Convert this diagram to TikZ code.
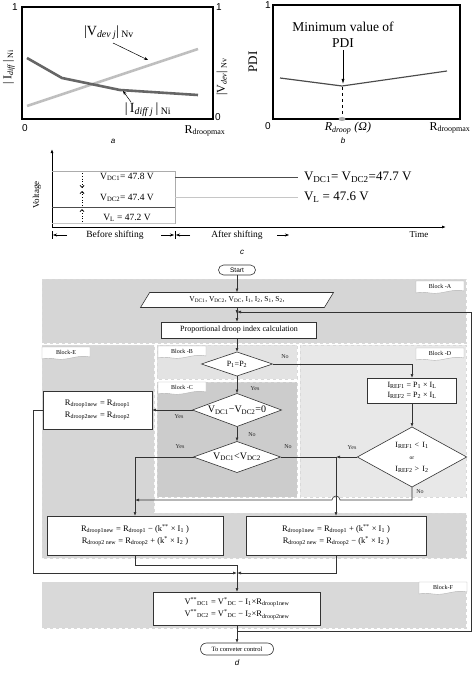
\documentclass[tikz,border=0pt]{standalone}
\usepackage{fontspec}
\setmainfont{Liberation Serif}
\newfontfamily\arialf{Liberation Sans}
\usetikzlibrary{arrows.meta,shapes.geometric,calc}
\newcommand\fsz[2]{\fontsize{#1}{#2}\selectfont}
\newcommand\btag[4]{%
  \begin{scope}[shift={(#2,#3)}]
    \draw[fill=white, draw=gray!60, line width=0.4pt] (-24,-6) -- (24,-6) -- (24,4) .. controls (12,1) and (2,8) .. (-10,6) .. controls (-16,5) and (-20,5) .. (-24,6) -- cycle;
    \node[font=\fsz{6}{7}] (#1) at (0,-0.5) {#4};
  \end{scope}}
\begin{document}
\begin{tikzpicture}[x=1pt,y=-1pt,
  >={Latex[length=4pt,width=3pt]},
  every node/.style={inner sep=0pt, outer sep=0pt},
  fcbox/.style={rectangle, draw=black!80, fill=white, line width=0.6pt, align=center},
  dia/.style={diamond, draw=black!80, fill=white, line width=0.6pt, aspect=2.5, align=center},
  conn/.style={draw=black!80, line width=0.6pt},
  arr/.style={conn,->},
  blk/.style={draw=gray!30, dashed, line width=0.4pt},
  yn/.style={font=\fsz{6}{7}, text=black!85},
  axnum/.style={font=\arialf\fsz{10}{11}},
  caplbl/.style={font=\arialf\itshape\fsz{8}{9}},
  thinarr/.style={->, line width=0.5pt, >={Stealth[length=4pt,width=3pt]}}
]
\useasboundingbox (0,0) rectangle (474,682);

% ================= Panel a =================
\draw[line width=1.3pt] (22,7) rectangle (213,119);
\node[axnum] (a1l) at (15,7) {1};
\node[axnum] (a0l) at (25,128) {0};
\node[axnum] (a1r) at (219,7) {1};
\node[axnum] (a0r) at (218,117) {0};
\node[font=\fsz{12}{13}] (armax) at (205,131) {R\textsubscript{droopmax}};
\node[caplbl] (acap) at (113,141) {a};
\node[rotate=90, font=\fsz{12}{13}] (aylab) at (9,67) {|\,I\textsubscript{\itshape diff}\,|\,\textsubscript{Ni}};
\node[rotate=90, font=\fsz{12}{13}] (ayrlab) at (222,77) {|V\textsubscript{\itshape dev}|\,\textsubscript{Nv}};
\draw[line width=2.6pt, color=gray!50] (27,106) -- (198,49);
\draw[line width=2.6pt, color=black!60, line join=round] (27,58) -- (62,78) -- (120,90) -- (198,95);
\node[font=\fsz{14}{15}] (vdevlbl) at (109,33) {|V\textsubscript{\itshape dev j}|\,\textsubscript{Nv}};
\node[font=\fsz{14}{15}] (idiflbl) at (148,110) {|\,I\textsubscript{\itshape diff j}\,|\,\textsubscript{Ni}};
\draw[thinarr] (113,43) -- (148,60);
\draw[thinarr] (131,102) -- (123,91);

% ================= Panel b =================
\draw[line width=1.3pt] (273,5) rectangle (460,119);
\node[axnum] (b1) at (268,5) {1};
\node[axnum] (b0) at (268,126) {0};
\node[rotate=90, font=\fsz{13}{14}] (bylab) at (253,62) {PDI};
\draw[line width=1.2pt, black!70] (280,78) -- (342,86) -- (447,71);
\node[font=\fsz{13.5}{16}, align=center] (minlbl) at (343,35) {Minimum value of\\PDI};
\draw[->, line width=0.6pt, >={Latex[length=5pt,width=3pt]}] (343,50) -- (343,84);
\draw[dashed, line width=0.6pt] (342,87) -- (342,119);
\node[ellipse, fill=gray!70, minimum width=7, minimum height=4] (bdot) at (342,119) {};
\node[font=\itshape\fsz{12}{13}] (brd) at (348,128) {R\textsubscript{droop} (Ω)};
\node[font=\fsz{12}{13}] (brmax) at (450,128) {R\textsubscript{droopmax}};
\node[caplbl] (bcap) at (343,141) {b};

% ================= Panel c =================
\draw[->, line width=0.8pt] (52,227) -- (52,149);
\draw[->, line width=0.8pt] (52,227) -- (446,227);
\node[rotate=90, font=\fsz{9}{10}] (cvolt) at (37,195) {Voltage};
\node[font=\fsz{9}{10}] (ctime) at (419,235) {Time};
\draw[gray!65, line width=0.8pt] (52,171) -- (175,171) -- (175,224);
\draw[black!70, line width=0.8pt] (52,207) -- (175,207);
\draw[gray!45, line width=0.8pt] (52,223) -- (175,223);
\draw[black!70, line width=1pt] (175,177) -- (298,177);
\draw[gray!45, line width=1pt] (175,197) -- (298,197);
\draw[dotted, line width=0.8pt, -{Straight Barb[length=2pt,width=4pt]}] (82,173) -- (82,188);
\draw[dotted, line width=0.8pt, -{Straight Barb[length=2pt,width=4pt]}] (82,206) -- (82,191);
\draw[dotted, line width=0.8pt, -{Straight Barb[length=2pt,width=4pt]}] (82,222) -- (82,209);
\node[font=\fsz{9.5}{10}] (cv1) at (127,177) {V\textsubscript{DC1}= 47.8 V};
\node[font=\fsz{9.5}{10}] (cv2) at (127,198) {V\textsubscript{DC2}= 47.4 V};
\node[font=\fsz{9.5}{10}] (cvl) at (127,218) {V\textsubscript{L} = 47.2 V};
\node[font=\fsz{13}{14}, anchor=west] (cv12) at (304,177) {V\textsubscript{DC1}= V\textsubscript{DC2}=47.7 V};
\node[font=\fsz{13}{14}, anchor=west] (cvl2) at (304,197) {V\textsubscript{L} = 47.6 V};
\node[font=\fsz{9.5}{10}] (cbef) at (115,235) {Before shifting};
\node[font=\fsz{9.5}{10}] (caft) at (237,235) {After shifting};
\draw[line width=0.6pt] (52,231) -- (52,239);
\draw[line width=0.6pt] (175,231) -- (175,239);
\draw[thinarr] (67,235) -- (53,235);
\draw[thinarr] (161,235) -- (174,235);
\draw[thinarr] (190,235) -- (176,235);
\draw[thinarr] (277,235) -- (289,235);
\node[caplbl] (ccap) at (242,252) {c};

% ================= Panel d: blocks =================
\fill[gray!32] (42,279) rectangle (466,343);
\draw[blk] (42,279) rectangle (466,343);
\fill[gray!32] (42,345) -- (154,345) -- (154,513) -- (466,513) -- (466,558) -- (42,558) -- cycle;
\draw[blk] (42,345) -- (154,345) -- (154,513) -- (466,513) -- (466,558) -- (42,558) -- cycle;
\fill[gray!22] (157,345) rectangle (297,379);
\draw[blk] (157,345) rectangle (297,379);
\fill[gray!40] (157,382) rectangle (297,497);
\draw[blk] (157,382) rectangle (297,497);
\fill[gray!18] (300,345) rectangle (466,497);
\draw[blk] (300,345) rectangle (466,497);
\fill[gray!30] (42,582) rectangle (466,628);
\draw[blk] (42,582) rectangle (466,628);

\btag{tagA}{440}{287}{Block -A}
\btag{tagB}{182}{352}{Block -B}
\btag{tagC}{182}{388}{Block -C}
\btag{tagD}{440}{354}{Block -D}
\btag{tagE}{66}{353}{Block-E}
\btag{tagF}{443}{588}{Block-F}

% ================= Panel d: nodes =================
\node[draw=black!80, fill=white, line width=0.6pt, rounded corners=5pt, minimum width=37, minimum height=10, font=\arialf\fsz{6.5}{7}] (start) at (237,270) {Start};
\node[trapezium, trapezium left angle=51, trapezium right angle=129, trapezium stretches=true, draw=black!80, fill=white, line width=0.6pt, minimum width=193, minimum height=15, font=\fsz{7.5}{8}] (inp) at (237,300) {V\textsubscript{DC1}, V\textsubscript{DC2}, V\textsubscript{DC}, I\textsubscript{1}, I\textsubscript{2}, S\textsubscript{1}, S\textsubscript{2},};
\node[fcbox, minimum width=155, minimum height=16, font=\fsz{8}{9}] (pdi) at (239,330) {Proportional droop index calculation};
\node[dia, minimum width=71, minimum height=24, font=\fsz{8}{9}] (d1) at (237,364) {P\textsubscript{1}=P\textsubscript{2}};
\node[dia, minimum width=89, minimum height=33, font=\fsz{10}{11}] (d2) at (237,410) {V\textsubscript{DC1}−V\textsubscript{DC2}=0};
\node[dia, minimum width=87, minimum height=31, font=\fsz{10}{11}] (d3) at (237,457) {V\textsubscript{DC1}<V\textsubscript{DC2}};
\node[fcbox, minimum width=109, minimum height=38, font=\fsz{8.5}{12}] (e1) at (97.5,410) {R\textsubscript{droop1new} = R\textsubscript{droop1}\\R\textsubscript{droop2new} = R\textsubscript{droop2}};
\node[fcbox, minimum width=89, minimum height=25, font=\fsz{8}{10}] (iref) at (412,390.5) {I\textsubscript{REF1} = P\textsubscript{1} × I\textsubscript{L}\\I\textsubscript{REF2} = P\textsubscript{2} × I\textsubscript{L}};
\node[dia, minimum width=97, minimum height=60, font=\fsz{8}{12}] (d4) at (412,457) {I\textsubscript{REF1} <\, I\textsubscript{1}\\{\fsz{5.5}{6}or}\\I\textsubscript{REF2} >\, I\textsubscript{2}};
\node[fcbox, minimum width=176, minimum height=39, font=\fsz{8.5}{12}] (lbox) at (135,535.5) {R\textsubscript{droop1new} = R\textsubscript{droop1} − (k\textsuperscript{**} × I\textsubscript{1} )\\R\textsubscript{droop2 new} = R\textsubscript{droop2} + (k\textsuperscript{*} × I\textsubscript{2} )};
\node[fcbox, minimum width=180, minimum height=39, font=\fsz{8.5}{12}] (rbox) at (336,535.5) {R\textsubscript{droop1new} = R\textsubscript{droop1} + (k\textsuperscript{**} × I\textsubscript{1} )\\R\textsubscript{droop2 new} = R\textsubscript{droop2} − (k\textsuperscript{*} × I\textsubscript{2} )};
\node[fcbox, minimum width=167, minimum height=33, font=\fsz{8.5}{12.5}] (fbox) at (237,608.5) {V\textsuperscript{**}\textsubscript{DC1} = V\textsuperscript{*}\textsubscript{DC} − I\textsubscript{1}×R\textsubscript{droop1new}\\V\textsuperscript{**}\textsubscript{DC2} = V\textsuperscript{*}\textsubscript{DC} − I\textsubscript{2}×R\textsubscript{droop2new}};
\node[draw=black!80, fill=white, line width=0.6pt, rounded corners=6pt, minimum width=73, minimum height=12, font=\fsz{6.5}{7}] (term) at (237,649) {To conveter control};
\node[caplbl] (dcap) at (237,663) {d};

% labels
\node[yn] (no1) at (285,357) {No};
\node[yn] (yes1) at (255,389) {Yes};
\node[yn] (yes2) at (179,417) {Yes};
\node[yn] (no2) at (252,435) {No};
\node[yn] (yes3) at (180,447) {Yes};
\node[yn] (no3) at (288,447) {No};
\node[yn] (yes4) at (352,448) {Yes};
\node[yn] (no4) at (420,492) {No};

% ================= Panel d: connectors =================
\coordinate (merge) at (237,312);
\coordinate (fbA) at (237,631);
\coordinate (fbB) at (471,631);
\coordinate (fbC) at (471,312);
\coordinate (jl) at (135,500);
\coordinate (jm1) at (237,565);
\coordinate (jm2) at (237,573);
\coordinate (outl) at (33,410);
\draw[arr] (start.south) -- (start.south |- inp.north);
\draw[arr] (inp.south -| merge) -- ($(merge)+(0,2)$);
\draw[arr] (merge) -- (merge |- pdi.north);
\draw[arr] (pdi.south -| d1.north) -- (d1.north);
\draw[arr] (d1.east) -| (iref.north);
\draw[arr] (d1.south) -- (d2.north);
\draw[arr] (d2.west) -- (e1.east);
\draw[arr] (d2.south) -- (d3.north);
\draw[arr] (d3.west) -| (lbox.north);
\draw[arr] (d3.east) -| (rbox.north);
\draw[arr] (iref.south) -- (d4.north);
\draw[arr] (d4.west) -- (d4.west -| rbox.north);
\draw[arr] (d4.south) |- (340,500) arc (0:-180:4) -- (jl);
\draw[arr] (e1.west) -- (outl) |- (jm2);
\draw[arr] (lbox.south) |- (jm1) -- (fbox.north);
\draw[arr] (rbox.south) |- (jm2);
\draw[arr] (fbox.south) -- (term.north);
\draw[arr] (fbA) -- (fbB) -- (fbC) -- (merge);
\end{tikzpicture}
\end{document}
